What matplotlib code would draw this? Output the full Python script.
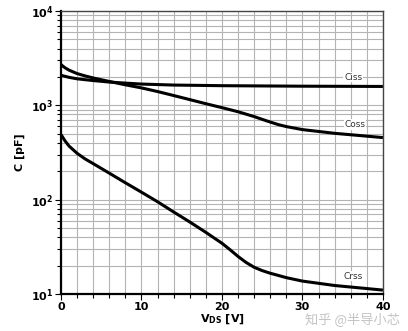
import matplotlib
matplotlib.use('Agg')
import matplotlib.pyplot as plt
from matplotlib.ticker import FixedLocator, NullFormatter

# capacitance vs drain-source voltage
vds_iss = [0, 1, 2, 4, 6, 8, 10, 14, 20, 30, 40]
ciss = [2080, 1980, 1910, 1830, 1765, 1720, 1680, 1640, 1615, 1595, 1585]

vds_oss = [0, 0.5, 1, 2, 3, 4, 6, 8, 10, 12, 14, 16, 18, 20, 22, 24, 25, 26,
           27, 28, 30, 34, 40]
coss = [2700, 2500, 2360, 2170, 2050, 1950, 1790, 1650, 1530, 1400, 1270,
        1150, 1040, 945, 855, 760, 710, 665, 625, 595, 553, 505, 455]

vds_rss = [0, 0.5, 1, 2, 3, 4, 6, 8, 10, 12, 14, 16, 18, 20, 21, 22, 23, 24,
           25, 26, 28, 30, 34, 40]
crss = [490, 420, 370, 310, 270, 241, 191, 151, 120, 95, 74, 58, 45, 34.5, 29.5,
        25, 21.6, 19.2, 17.7, 16.6, 14.9, 13.7, 12.3, 11.0]

curve_labels = ['Ciss', 'Coss', 'Crss']
label_pos = [(36.3, 1985), (36.5, 628), (36.3, 15.5)]

ytick_vals = [10, 100, 1000, 10000]
ytick_text = [r'$\mathbf{10^{1}}$', r'$\mathbf{10^{2}}$', r'$\mathbf{10^{3}}$', r'$\mathbf{10^{4}}$']
xtick_vals = [0, 10, 20, 30, 40]

fig = plt.figure(figsize=(4.08, 3.31), dpi=100)
ax = fig.add_axes([0.1495, 0.1118, 0.789, 0.855])

ax.set_yscale('log')
ax.set_xlim(0, 40)
ax.set_ylim(10, 10000)

# grid: every 2 V, and every log minor
ax.xaxis.set_minor_locator(FixedLocator(list(range(0, 41, 2))))
minors = [m * 10 ** e for e in range(1, 4) for m in range(2, 10)]
ax.yaxis.set_minor_locator(FixedLocator(minors))
ax.yaxis.set_minor_formatter(NullFormatter())
ax.grid(True, which='both', color='#b4b4b4', lw=0.8)
ax.set_axisbelow(True)

for d in (vds_iss, ciss), (vds_oss, coss), (vds_rss, crss):
    ax.plot(d[0], d[1], color='black', lw=2.2, solid_capstyle='butt', solid_joinstyle='round')

for name, (x, y) in zip(curve_labels, label_pos):
    ax.text(x, y, name, fontsize=6.5, color='#333333', ha='center', va='center',
            bbox=dict(facecolor='white', edgecolor='none', pad=0.5))

ax.set_yticks(ytick_vals)
ax.set_yticklabels(ytick_text, fontsize=8)
ax.set_xticks(xtick_vals)
ax.set_xticklabels([str(v) for v in xtick_vals], fontsize=8, fontweight='bold')
ax.tick_params(which='both', direction='out', length=3, width=0.8, color='black', pad=1.5)
ax.tick_params(which='major', length=4)

for side in ['left', 'bottom']:
    ax.spines[side].set_linewidth(1.6)
for side in ['top', 'right']:
    ax.spines[side].set_linewidth(1.0)
    ax.spines[side].set_color('#444444')

ax.set_ylabel('C [pF]', fontsize=8, fontweight='bold', labelpad=4)
ax.set_xlabel(r'V$_{\mathbf{DS}}$ [V]', fontsize=8, fontweight='bold', labelpad=0.5)

fig.text(0.865, 0.036, '知乎 @半导小芯', fontsize=9.5, color='#c4c4c4', ha='center', va='center',
         family=['Noto Sans CJK SC', 'DejaVu Sans'])

fig.savefig('out.png', dpi=100)
